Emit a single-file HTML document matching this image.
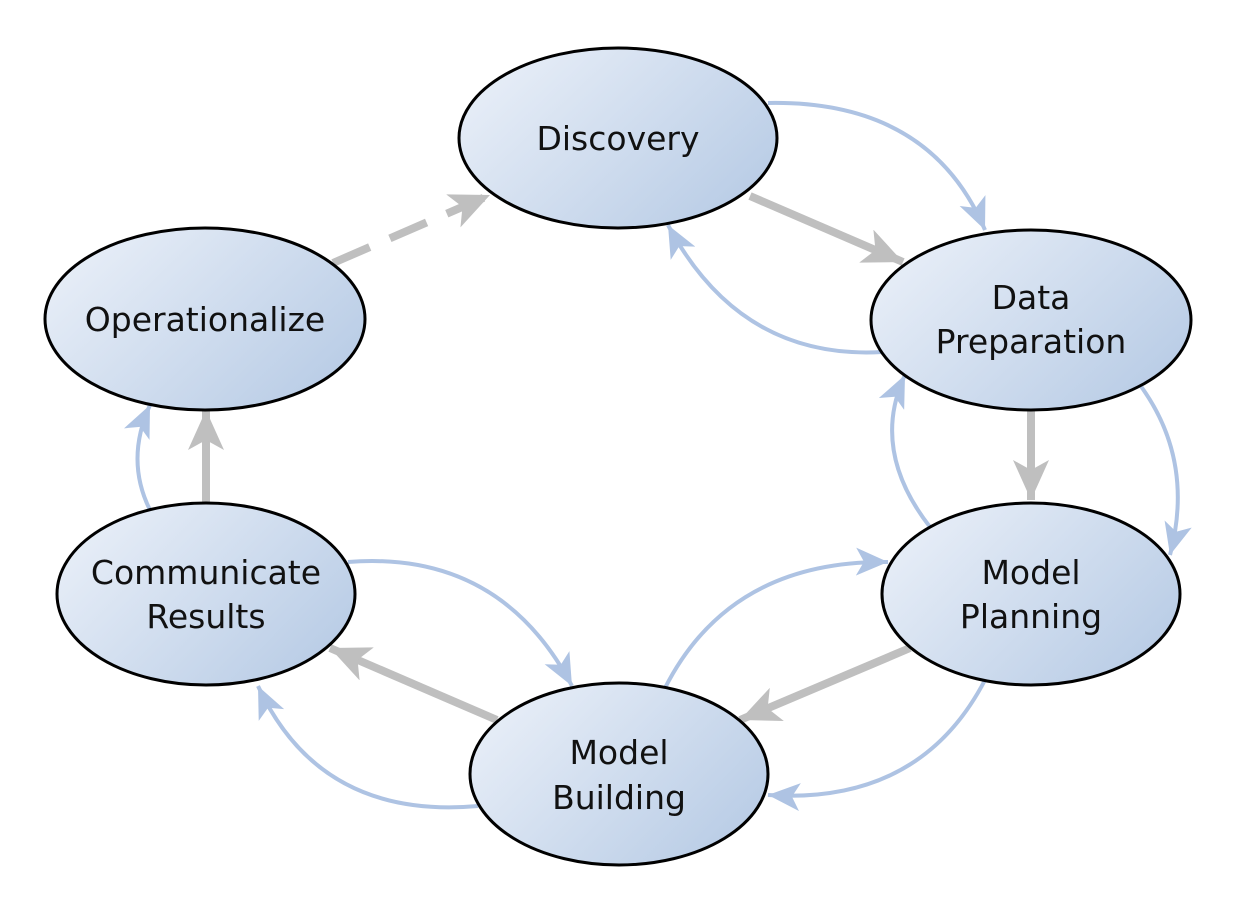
<!DOCTYPE html>
<html><head><meta charset="utf-8"><style>
html,body{margin:0;padding:0;background:#fff;}
svg{display:block;}
text{font-family:"DejaVu Sans","Liberation Sans",sans-serif;font-size:33px;fill:#111;text-anchor:middle;}
</style></head><body>
<svg width="1238" height="913" viewBox="0 0 1238 913" xmlns="http://www.w3.org/2000/svg">
<defs>
<linearGradient id="g" x1="0" y1="0.2" x2="1" y2="0.8">
<stop offset="0" stop-color="#e9eff8"/><stop offset="1" stop-color="#b7cbe5"/>
</linearGradient>
<marker id="mg" markerUnits="userSpaceOnUse" markerWidth="44" markerHeight="36" refX="40" refY="18" orient="auto">
<path d="M0,0 L40,18 L0,36 L10,18 z" fill="#bfbfbf"/>
</marker>
<marker id="mb" markerUnits="userSpaceOnUse" markerWidth="34" markerHeight="28" refX="32" refY="14" orient="auto">
<path d="M0,0 L32,14 L0,28 L8,14 z" fill="#aec3e3"/>
</marker>
</defs>
<g fill="none" stroke="#bfbfbf" stroke-width="8" marker-end="url(#mg)">
<path d="M333,263 L490,195" stroke-dasharray="40,22"/>
<path d="M750,196 L903,262"/>
<path d="M1031,410 L1031,500"/>
<path d="M910,648 L740,720"/>
<path d="M497,720 L330,648"/>
<path d="M206,503 L206,410"/>
</g>
<g fill="none" stroke="#aec3e3" stroke-width="4" marker-end="url(#mb)">
<path d="M768,103 Q930,100 985,230"/>
<path d="M882,352 Q740,360 668,225"/>
<path d="M1140,385 Q1195,460 1170,555"/>
<path d="M930,527 Q870,450 905,375"/>
<path d="M665,688 Q730,560 888,562"/>
<path d="M985,680 Q920,805 768,795"/>
<path d="M348,562 Q500,550 572,686"/>
<path d="M478,806 Q320,820 258,686"/>
<path d="M150,510 Q125,460 150,405"/>
</g>
<g fill="url(#g)" stroke="#000" stroke-width="3">
<ellipse cx="618" cy="138" rx="159" ry="90"/>
<ellipse cx="1031" cy="320" rx="160" ry="90"/>
<ellipse cx="1031" cy="594" rx="149" ry="91"/>
<ellipse cx="619" cy="774" rx="149" ry="91"/>
<ellipse cx="206" cy="594" rx="149" ry="91"/>
<ellipse cx="205" cy="319" rx="160" ry="91"/>
</g>
<text x="618" y="150">Discovery</text>
<text x="1031" y="309">Data</text>
<text x="1031" y="353">Preparation</text>
<text x="1031" y="584">Model</text>
<text x="1031" y="628">Planning</text>
<text x="619" y="764">Model</text>
<text x="619" y="809">Building</text>
<text x="206" y="584">Communicate</text>
<text x="206" y="628">Results</text>
<text x="205" y="331">Operationalize</text>
</svg>
</body></html>
